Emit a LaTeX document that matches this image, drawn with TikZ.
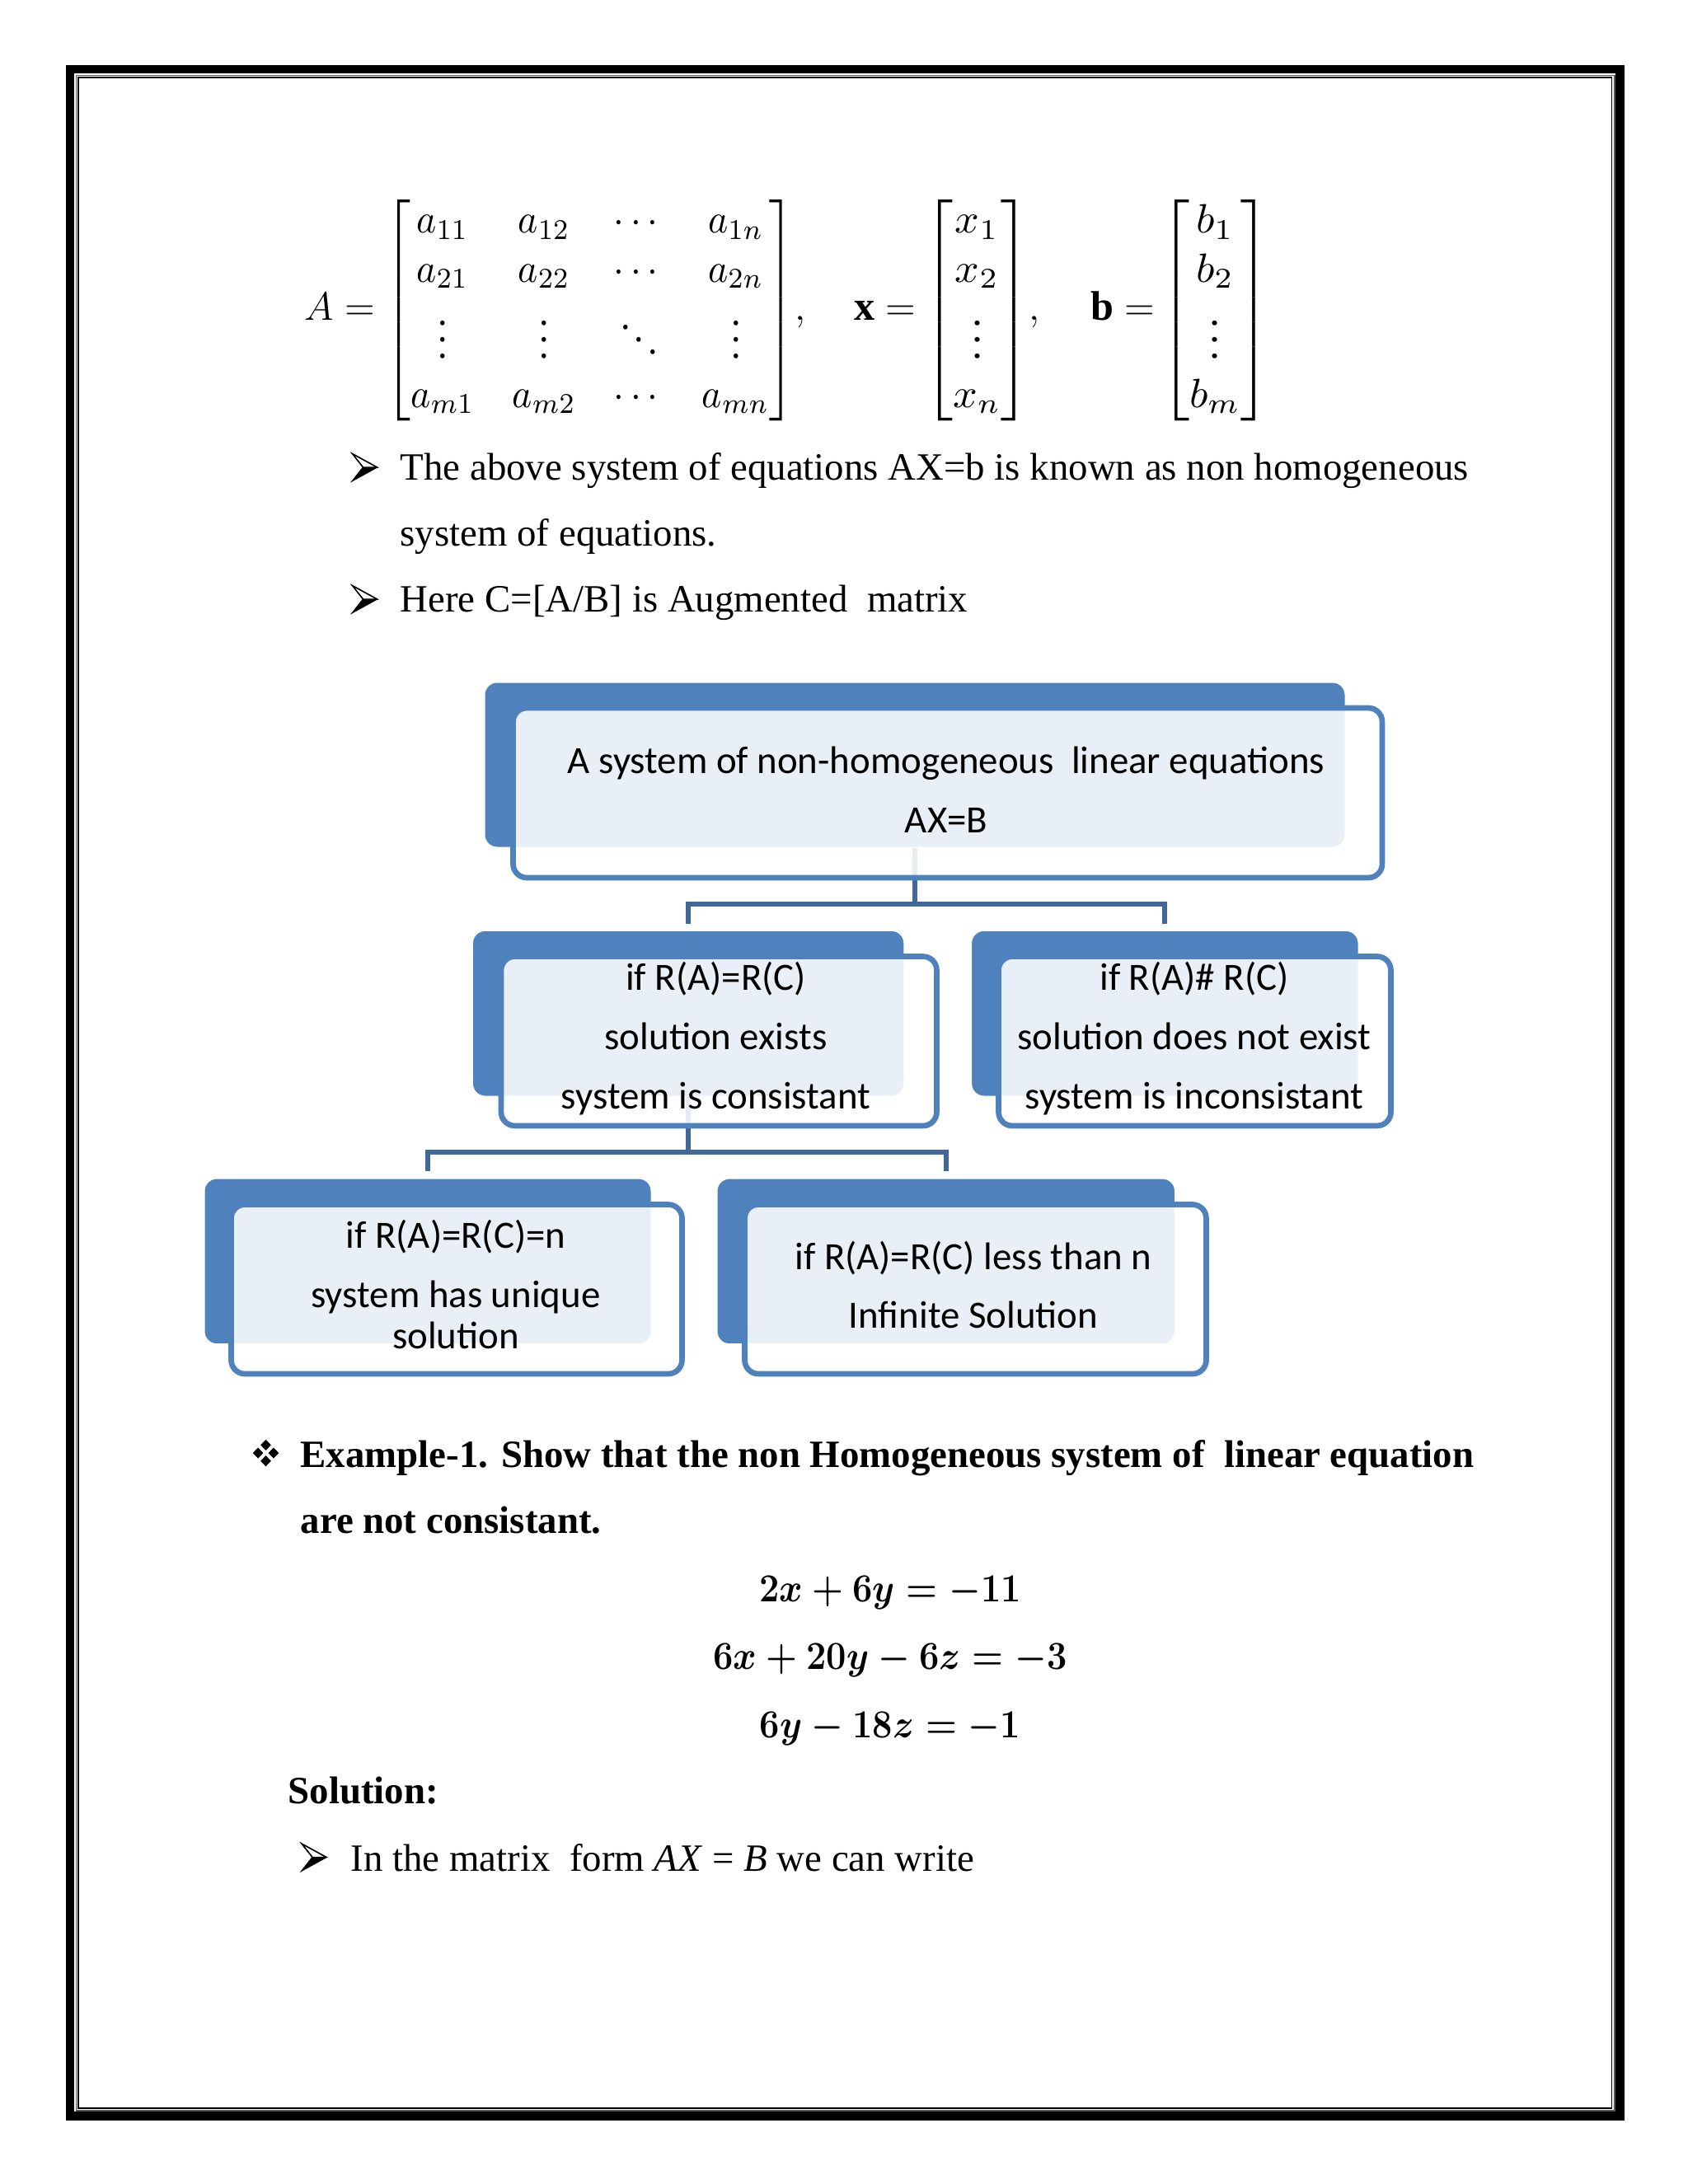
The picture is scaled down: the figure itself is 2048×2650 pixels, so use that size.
\documentclass[tikz,border=0pt]{standalone}
\usepackage{amsmath}
\usepackage{bm}
\usepackage{graphicx}
\usepackage{fontspec}
\setmainfont{Liberation Serif}
\newfontfamily\carlito{Carlito}
\usetikzlibrary{fit,calc}
\definecolor{sblue}{HTML}{4F81BD}
\definecolor{cblue}{HTML}{41679B}
\tikzset{
  backbox/.style={fill=sblue, draw=white, line width=0.3pt, rounded corners=4.5pt, inner sep=0pt},
  frontbox/.style={fill=white, fill opacity=0.88, draw=sblue, draw opacity=1, line width=2pt, rounded corners=5pt, inner sep=0pt},
  conn/.style={draw=cblue, line width=1.8pt, shorten >=2.4pt},
  boxtext/.style={font=\carlito\fontsize{14}{15}\selectfont, align=center, inner sep=0pt, anchor=base},
  bodytext/.style={font=\fontsize{14}{16}\selectfont, anchor=base west, inner sep=0pt},
  boldtext/.style={font=\bfseries\fontsize{14}{16}\selectfont, anchor=base west, inner sep=0pt},
  mathtext/.style={font=\fontsize{15}{18}\selectfont, anchor=base, inner sep=0pt},
  eqtext/.style={font=\boldmath\fontsize{14}{16}\selectfont, anchor=base, inner sep=0pt},
  arrowbullet/.pic={
    \fill[black] (-2,0) -- (15,0) -- (-15,16.5) -- cycle;
    \filldraw[fill=white, draw=black, line width=0.4pt, line join=miter] (-15,-16.5) -- (15,0) -- (-2,0) -- cycle;
    \draw[black, line width=0.4pt, line join=miter] (-15,-16.5) -- (15,0) -- (-15,16.5) -- (-2,0) -- cycle;
  },
  diamondbullet/.pic={
    \foreach \dx/\dy in {0/-9.7, -9.4/0, 9.4/0, 0/9.7}
      \fill[black, shift={(\dx,\dy)}] (0,-6.6) -- (6.3,0) -- (0,6.6) -- (-6.3,0) -- cycle;
  },
}
\begin{document}
\begin{tikzpicture}[x={(0.29883pt,0)}, y={(0,-0.29883pt)}]
\useasboundingbox (0,0) rectangle (2048,2650);
\fill[white] (0,0) rectangle (2048,2650);

% page border
\draw[line width=3.15pt] (85,84) rectangle (1965.5,2567.3);
\draw[line width=0.4pt, draw=black!65] (92.3,91.7) rectangle (1959,2560.8);
\draw[line width=0.55pt] (94.8,94.3) rectangle (1955.5,2558);

% matrices
\node[mathtext] (Aeq) at (412,388) {$A =$};
\node[inner sep=0pt] (Amat) at (716,376.5) {\resizebox*{148.4pt}{81pt}{$\begin{bmatrix} a_{11} & a_{12} & \cdots & a_{1n}\\ a_{21} & a_{22} & \cdots & a_{2n}\\ \vdots & \vdots & \ddots & \vdots\\ a_{m1} & a_{m2} & \cdots & a_{mn}\end{bmatrix}$}};
\node[mathtext] (c1) at (971,388) {$,$};
\node[mathtext] (xeq) at (1074,388) {$\mathbf{x} =$};
\node[inner sep=0pt] (xvec) at (1185.5,376.5) {\resizebox*{38.1pt}{81pt}{$\begin{bmatrix} x_1\\ x_2\\ \vdots\\ x_n\end{bmatrix}$}};
\node[mathtext] (c2) at (1255,388) {$,$};
\node[mathtext] (beq) at (1362,388) {$\mathbf{b} =$};
\node[inner sep=0pt] (bvec) at (1474,376.5) {\resizebox*{39.3pt}{81pt}{$\begin{bmatrix} b_1\\ b_2\\ \vdots\\ b_m\end{bmatrix}$}};

% bullet text
\pic at (442.5,567) {arrowbullet};
\node[bodytext] (p1) at (485,582) {The above system of equations AX=b is known as non homogeneous};
\node[bodytext] (p2) at (485,662) {system of equations.};
\pic at (442.5,727) {arrowbullet};
\node[bodytext] (p3) at (485,742) {Here C=[A/B] is Augmented\ \ matrix};

% diagram: back shapes
\node[backbox, fit={(588,828) (1632,1028)}] (topback) {};
\node[backbox, fit={(573.4,1129.3) (1096.8,1330)}] (l2aback) {};
\node[backbox, fit={(1178.6,1129.3) (1648,1330)}] (l2bback) {};
\node[backbox, fit={(248,1430) (790,1630.7)}] (l3aback) {};
\node[backbox, fit={(870,1430) (1425.5,1630.7)}] (l3bback) {};

% connectors
\coordinate (bar1) at (1110,1097);
\coordinate (bar2) at (835,1398);
\draw[conn] (topback.south) -- (topback.south |- bar1) -| (l2aback.north);
\draw[conn] (topback.south |- bar1) -| (l2bback.north);
\draw[conn] (l2aback.south) -- (l2aback.south |- bar2) -| (l3aback.north);
\draw[conn] (l2aback.south |- bar2) -| (l3bback.north);

% front shapes
\node[frontbox, fit={(622.5,859) (1677,1065)}] (topfront) {};
\node[frontbox, fit={(608,1160.5) (1136.5,1366)}] (l2afront) {};
\node[frontbox, fit={(1211.5,1160.5) (1687.5,1366)}] (l2bfront) {};
\node[frontbox, fit={(280.5,1461.5) (827.5,1667)}] (l3afront) {};
\node[frontbox, fit={(903.5,1461.5) (1463.5,1667)}] (l3bfront) {};

% box texts (base anchor = last line's baseline)
\node[boxtext] (ttext) at (1148,1010) {A system of non-homogeneous\ \ linear equations\\[6.4pt]AX=B};
\node[boxtext] (l2atext) at (868.6,1345) {if R(A)=R(C)\\[6.4pt]solution exists\\[6.4pt]system is consistant};
\node[boxtext] (l2btext) at (1449,1345) {if R(A)\# R(C)\\[6.4pt]solution does not exist\\[6.4pt]system is inconsistant};
\node[boxtext] (l3atext) at (553,1636.7) {if R(A)=R(C)=n\\[6.4pt]system has unique\\solution};
\node[boxtext] (l3btext) at (1181,1611.7) {if R(A)=R(C) less than n\\[6.4pt]Infinite Solution};

% example
\pic at (322.5,1763) {diamondbullet};
\node[boldtext] (ex1) at (364,1780) {Example-1. Show that the non Homogeneous system of\ \ linear equation};
\node[boldtext] (ex2) at (364,1860) {are not consistant.};
\node[eqtext] (eq1) at (1080,1943) {\scalebox{0.9}[1]{$2x+6y=-11$}};
\node[eqtext] (eq2) at (1080,2025) {\scalebox{0.9}[1]{$6x+20y-6z=-3$}};
\node[eqtext] (eq3) at (1080,2108) {\scalebox{0.9}[1]{$6y-18z=-1$}};
\node[boldtext] (sol) at (349,2188) {Solution:};
\pic at (381,2253.5) {arrowbullet};
\node[bodytext] (p4) at (425,2270) {In the matrix\ \ form \textit{AX} = \textit{B} we can write};
\end{tikzpicture}
\end{document}
